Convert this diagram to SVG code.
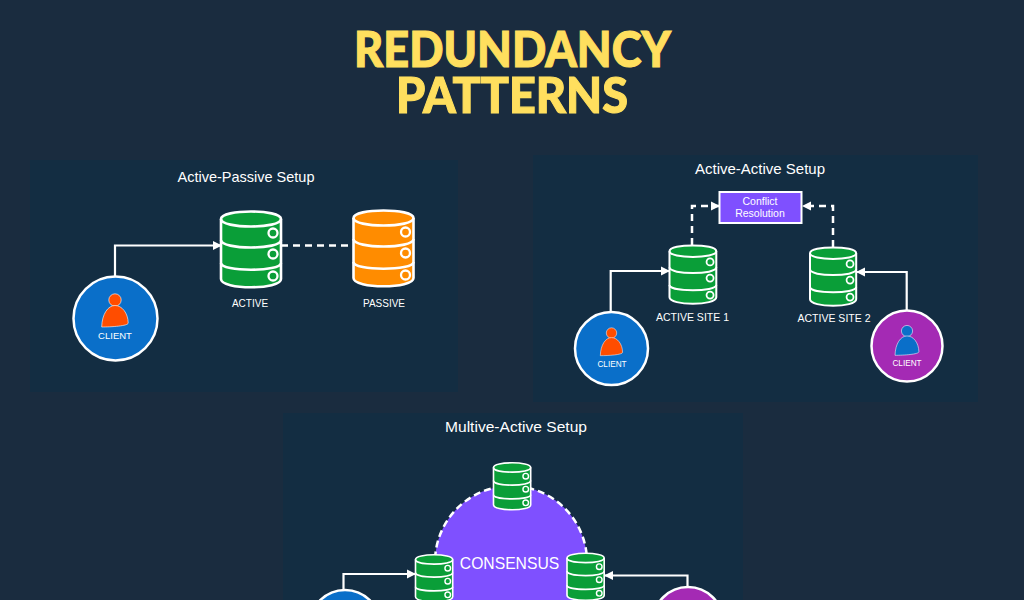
<svg xmlns="http://www.w3.org/2000/svg" xmlns:xlink="http://www.w3.org/1999/xlink" width="1024" height="600" viewBox="0 0 1024 600">
<style>
text{font-family:"Liberation Sans",Arial,sans-serif;fill:#fff;text-anchor:middle}
.h{font-family:"Lato","Liberation Sans",sans-serif;font-weight:900;font-size:50px;fill:#ffdf5e;stroke:#ffdf5e;stroke-width:1.1}
.l{font-size:10px}
.c{fill:none;stroke:#fff;stroke-width:2.2}
.d{stroke-dasharray:7 5;stroke-width:2.5}
.n{stroke:#fff;stroke-width:2.5}
</style>
<defs>
<marker id="a" markerUnits="userSpaceOnUse" markerWidth="12" markerHeight="12" refX="10" refY="6" orient="auto"><path d="M1 1.500L10 6L1 10.500Z" fill="#fff"/></marker>
<g id="db" stroke="#fff" stroke-width="2.6">
<path d="M0 8C0-2 60-2 60 8V68C60 79 0 79 0 68Z"/>
<path fill="none" d="M0 8C0 18 60 18 60 8M0 29C0 39 60 39 60 29M0 52C0 61 60 61 60 52"/>
<g stroke-width="2.300"><circle cx="52" cy="22" r="4.500"/><circle cx="52" cy="43" r="4.500"/><circle cx="52" cy="65" r="4.500"/></g>
</g>
<g id="p" stroke="#fff" stroke-width=".6">
<circle cx="0" cy="0" r="6.200"/>
<path d="M-13.300 27C-13 14-7 5.500 0 5.500C7 5.500 13 13 13.200 23C13.300 26-4 27-13.300 27Z"/>
</g>
</defs>
<rect id="background" width="1024" height="600" fill="#1a2c3f"/>
<g id="panels" fill="#132d42">
<rect x="30" y="160" width="428" height="232"/>
<rect x="533" y="155" width="445" height="247"/>
<rect x="283" y="413" width="460" height="187"/>
</g>
<text class="h"><tspan x="512.500" y="67" textLength="317" lengthAdjust="spacingAndGlyphs">REDUNDANCY</tspan><tspan x="512" y="113" textLength="232" lengthAdjust="spacingAndGlyphs">PATTERNS</tspan></text>
<text style="font-size:14.500px" x="246" y="181.500">Active-Passive Setup</text>
<text style="font-size:15px" x="760" y="173.500">Active-Active Setup</text>
<text style="font-size:15px" x="516" y="431.500" textLength="142" lengthAdjust="spacingAndGlyphs">Multive-Active Setup</text>
<g id="consensus"><circle cx="511" cy="562" r="76" fill="#7f50ff" stroke="#fff" stroke-width="2.500" stroke-dasharray="7 4"/><text x="509.500" y="569" font-size="15.700">CONSENSUS</text></g>
<g id="connectors">
<path class="c" marker-end="url(#a)" d="M115 278V245.500H222"/>
<path class="c d" d="M281 245.500H353"/>
<path class="c" marker-end="url(#a)" d="M610.700 314V271H670"/>
<path class="c" marker-end="url(#a)" d="M906.700 312V272H856"/>
<path class="c d" marker-end="url(#a)" d="M692 245V206H720"/>
<path class="c d" marker-end="url(#a)" d="M833 247V206H802"/>
<path class="c" marker-end="url(#a)" d="M343.500 590V574H416"/>
<path class="c" marker-end="url(#a)" d="M687.500 588V575.500H604"/>
</g>
<g id="db-active"><use xlink:href="#db" href="#db" fill="#0a9e38" transform="translate(221 211)"/><text class="l" x="250" y="307">ACTIVE</text></g>
<g id="db-passive"><use xlink:href="#db" href="#db" fill="#ff8c00" transform="translate(353.500 210)"/><text class="l" x="384" y="307">PASSIVE</text></g>
<g id="db-site1"><use xlink:href="#db" href="#db" fill="#0a9e38" transform="translate(669.500 245) scale(.78 .77)"/><text style="font-size:10.500px" x="692.500" y="321">ACTIVE SITE 1</text></g>
<g id="db-site2"><use xlink:href="#db" href="#db" fill="#0a9e38" transform="translate(810 247) scale(.77)"/><text style="font-size:10.500px" x="834" y="322">ACTIVE SITE 2</text></g>
<g id="conflict"><rect x="719.500" y="192" width="82" height="31" fill="#7f50ff" stroke="#fff" stroke-width="2"/><text style="font-size:10.500px" x="760" y="205">Conflict</text><text style="font-size:10.500px" x="760" y="217">Resolution</text></g>
<g id="client-a"><circle class="n" cx="115.500" cy="318.500" r="42" fill="#0a6fc9"/><use xlink:href="#p" href="#p" fill="#ff4d00" transform="translate(115 300)"/><text style="font-size:9.500px" x="115" y="339">CLIENT</text></g>
<g id="client-b"><circle class="n" cx="611.500" cy="348.500" r="36.500" fill="#0a6fc9"/><use xlink:href="#p" href="#p" fill="#ff4d00" transform="translate(611.500 333) scale(.84)"/><text style="font-size:8.200px" x="612" y="367">CLIENT</text></g>
<g id="client-c"><circle class="n" cx="907" cy="346" r="35.500" fill="#a42ab4"/><use xlink:href="#p" href="#p" fill="#0a6fc9" transform="translate(907 331) scale(.9)"/><text style="font-size:8.200px" x="907" y="366">CLIENT</text></g>
<g id="db-m1"><use xlink:href="#db" href="#db" fill="#0a9e38" transform="translate(493.500 462.500) scale(.62)"/></g>
<g id="db-m2"><use xlink:href="#db" href="#db" fill="#0a9e38" transform="translate(415.500 554.500) scale(.62)"/></g>
<g id="db-m3"><use xlink:href="#db" href="#db" fill="#0a9e38" transform="translate(567 553) scale(.62)"/></g>
<g id="client-d"><circle class="n" cx="345" cy="625" r="35" fill="#0a6fc9"/></g>
<g id="client-e"><circle class="n" cx="688" cy="622" r="35" fill="#a42ab4"/></g>
</svg>
